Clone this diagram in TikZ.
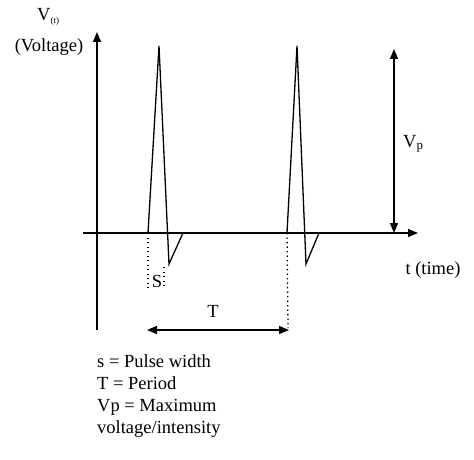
\documentclass[tikz,border=0pt]{standalone}
\usepackage{fontspec}
\setmainfont{Liberation Serif}
\usetikzlibrary{arrows.meta}
\begin{document}
\begin{tikzpicture}[x=1pt,y=-1pt,
  ln/.style={line width=1.3pt,line join=miter},
  arr/.style={line width=1.3pt,-{Triangle[length=10pt,width=8pt]}},
  darr/.style={line width=1.3pt,{Triangle[length=10pt,width=8pt]}-{Triangle[length=10pt,width=8pt]}},
  dot/.style={line width=1.3pt,dash pattern=on 1.3pt off 3.2pt},
  lbl/.style={inner sep=0pt,font=\fontsize{18.5}{21}\selectfont}]
\useasboundingbox (0,0) rectangle (474,460);
% axes
\coordinate (yb) at (97,330);
\coordinate (yt) at (97,32);
\coordinate (xl) at (83,233);
\coordinate (xr) at (418,233);
\draw[arr] (yb) -- (yt);
\draw[arr] (xl) -- (xr);
% pulse 1
\coordinate (a1) at (148,233);
\coordinate (p1) at (159,46);
\coordinate (m1) at (169,264);
\coordinate (e1) at (183,233);
\draw[ln] (a1) -- (p1) -- (m1) -- (e1);
% pulse 2
\coordinate (a2) at (287,233);
\coordinate (p2) at (297,46);
\coordinate (m2) at (306,264);
\coordinate (e2) at (319,233);
\draw[ln] (a2) -- (p2) -- (m2) -- (e2);
% dotted
\coordinate (d1) at (148,288);
\coordinate (s2t) at (164,267);
\coordinate (s2b) at (164,288);
\coordinate (d2) at (288,328);
\draw[dot] (a1) -- (d1);
\draw[dot] (s2t) -- (s2b);
\draw[dot] (a2) -- (d2);
% S label
\node[lbl] (S) at (157,281) {S};
% T arrow
\coordinate (tl) at (147,330);
\coordinate (tr) at (289,330);
\draw[darr] (tl) -- (tr);
\node[lbl] (T) at (213,311) {T};
% Vp arrow
\coordinate (vt) at (394,49);
\coordinate (vb) at (394,233);
\draw[darr] (vb) -- (vt);
\node[lbl,anchor=west] (Vp) at (403,144) {V\textsubscript{p}};
% labels
\node[lbl] (tt) at (433,270) {t (time)};
\node[lbl,anchor=west] (Vt) at (37,17) {V\textsubscript{\fontsize{9}{10}\selectfont(t)}};
\node[lbl] (Vol) at (49,47) {(Voltage)};
\node[lbl,anchor=north west,align=left,font=\fontsize{18.5}{22.3}\selectfont] (leg) at (97,354)
 {s = Pulse width\\T = Period\\Vp = Maximum\\voltage/intensity};
\end{tikzpicture}
\end{document}
